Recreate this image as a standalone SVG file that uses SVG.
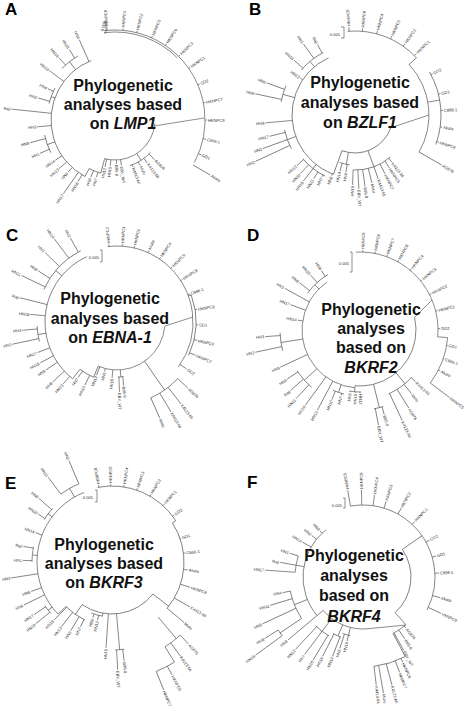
<svg xmlns="http://www.w3.org/2000/svg" width="474" height="718" viewBox="0 0 474 718">
<style>
.t line,.t circle,.t path{stroke:#505050;stroke-width:0.65;fill:none}
.t text{font-family:'Liberation Sans',Arial,sans-serif;font-size:4.1px;fill:#333;dominant-baseline:central}
.t text.f{text-anchor:end}
.s{font-family:'Liberation Sans',Arial,sans-serif;font-size:3.6px;fill:#333}
.h{font-family:'Liberation Sans',Arial,sans-serif;font-weight:bold;font-size:16px;text-anchor:middle;fill:#111}
.p{font-family:'Liberation Sans',Arial,sans-serif;font-weight:bold;font-size:17px;fill:#000}
</style>
<rect width="474" height="718" fill="#fff"/>

<!-- ===== Panel A ===== -->
<g id="panelA">
<text class="p" x="5" y="15">A</text>
<g class="t">
<path d="M104 22H106V33H104"/><text class="s" x="102" y="31" transform="rotate(-75 102 31)">0.005</text>
</g>
<g id="A-edges" class="t" transform="translate(115,120)">
<circle r="90" transform="rotate(-97)" stroke-dasharray="196.3 999"/>
<circle r="88" transform="rotate(-97)" stroke-dasharray="79.9 999"/>
<circle r="40" transform="rotate(5)" stroke-dasharray="69.8 999"/>
<circle r="48" transform="rotate(42)" stroke-dasharray="25.1 999"/>
<circle r="55" transform="rotate(105)" stroke-dasharray="12.5 999"/>
<circle r="64" transform="rotate(118)" stroke-dasharray="145.2 999"/>
<circle r="72" transform="rotate(153)" stroke-dasharray="18.8 999"/>
<circle r="74" transform="rotate(224)" stroke-dasharray="20.7 999"/>
<circle r="68" transform="rotate(194)" stroke-dasharray="16.6 999"/>
<line transform="rotate(57)" x1="40" x2="48"/>
<line transform="rotate(105)" x1="40" x2="55"/>
<line transform="rotate(118)" x1="55" x2="64"/>
<line transform="rotate(160)" x1="64" x2="72"/>
<line transform="rotate(232)" x1="64" x2="74"/>
<line transform="rotate(200)" x1="64" x2="68"/>
<line x1="39" y1="6" x2="89" y2="-2"/>
</g>
<g id="A-leaves" class="t" transform="translate(115,120)">
<g transform="rotate(-95)"><line x1="90" x2="93"/><text x="94">HKNPC8</text></g>
<g transform="rotate(-85)"><line x1="90" x2="92"/><text x="93">HKNPC4</text></g>
<g transform="rotate(-76)"><line x1="90" x2="92"/><text x="93">HKNPC2</text></g>
<g transform="rotate(-66)"><line x1="90" x2="92"/><text x="93">HKNPC5</text></g>
<g transform="rotate(-56)"><line x1="90" x2="92"/><text x="93">HKNPC6</text></g>
<g transform="rotate(-45)"><line x1="90" x2="92"/><text x="93">HKNPC3</text></g>
<g transform="rotate(-35)"><line x1="90" x2="92"/><text x="93">HKNPC1</text></g>
<g transform="rotate(-23)"><line x1="90" x2="92"/><text x="93">GD2</text></g>
<g transform="rotate(-11)"><line x1="90" x2="92"/><text x="93">HKNPC7</text></g>
<g transform="rotate(0)"><line x1="90" x2="92"/><text x="93">HKNPC9</text></g>
<g transform="rotate(12)"><line x1="90" x2="93"/><text x="94">C666-1</text></g>
<g transform="rotate(22)"><line x1="90" x2="93"/><text x="94">GD1</text></g>
<g transform="rotate(30)"><line x1="90" x2="110"/><text x="111">Akata</text></g>
<g transform="rotate(45)"><line x1="48" x2="56"/><text x="57">AG876</text></g>
<g transform="rotate(53)"><line x1="48" x2="54"/><text x="55">K4123-Mi</text></g>
<g transform="rotate(61)"><line x1="48" x2="52"/><text x="53">Mutu</text></g>
<g transform="rotate(69)"><line x1="48" x2="50"/><text x="51">K4413-Mi</text></g>
<g transform="rotate(82)"><line x1="40" x2="46"/><text x="47">EBV_WT</text></g>
<g transform="rotate(88)"><line x1="40" x2="44"/><text x="45">B95-8</text></g>
<g transform="rotate(96)"><line x1="40" x2="46"/><text class="f" transform="translate(47) rotate(180)">HN15</text></g>
<g transform="rotate(102)"><line x1="40" x2="48"/><text class="f" transform="translate(49) rotate(180)">HN12</text></g>
<g transform="rotate(108)"><line x1="55" x2="60"/><text class="f" transform="translate(61) rotate(180)">HN7</text></g>
<g transform="rotate(113)"><line x1="55" x2="62"/><text class="f" transform="translate(63) rotate(180)">HN5</text></g>
<g transform="rotate(121)"><line x1="64" x2="72"/><text class="f" transform="translate(73) rotate(180)">HN16</text></g>
<g transform="rotate(125)"><line x1="64" x2="90"/><text class="f" transform="translate(91) rotate(180)">HN17</text></g>
<g transform="rotate(132)"><line x1="64" x2="70"/><text class="f" transform="translate(71) rotate(180)">HN9</text></g>
<g transform="rotate(139)"><line x1="64" x2="74"/><text class="f" transform="translate(75) rotate(180)">HN13</text></g>
<g transform="rotate(146)"><line x1="64" x2="72"/><text class="f" transform="translate(73) rotate(180)">HN14</text></g>
<g transform="rotate(156)"><line x1="72" x2="82"/><text class="f" transform="translate(83) rotate(180)">HN1</text></g>
<g transform="rotate(165)"><line x1="72" x2="88"/><text class="f" transform="translate(89) rotate(180)">HN8</text></g>
<g transform="rotate(175)"><line x1="64" x2="78"/><text class="f" transform="translate(79) rotate(180)">HN3</text></g>
<g transform="rotate(186)"><line x1="64" x2="104"/><text class="f" transform="translate(105) rotate(180)">Raji</text></g>
<g transform="rotate(196)"><line x1="68" x2="80"/><text class="f" transform="translate(81) rotate(180)">HN2</text></g>
<g transform="rotate(205)"><line x1="68" x2="74"/><text class="f" transform="translate(75) rotate(180)">HN4</text></g>
<g transform="rotate(217)"><line x1="64" x2="82"/><text class="f" transform="translate(83) rotate(180)">HN10</text></g>
<g transform="rotate(228)"><line x1="74" x2="84"/><text class="f" transform="translate(85) rotate(180)">HN18</text></g>
<g transform="rotate(237)"><line x1="74" x2="84"/><text class="f" transform="translate(85) rotate(180)">HN11</text></g>
<g transform="rotate(246)"><line x1="64" x2="88"/><text class="f" transform="translate(89) rotate(180)">HN6</text></g>
</g>
<text class="h" x="123" y="91">Phylogenetic</text>
<text class="h" x="123" y="110">analyses based</text>
<text class="h" x="123" y="129">on <tspan font-style="italic">LMP1</tspan></text>
</g>

<!-- ===== Panel B ===== -->
<g id="panelB">
<text class="p" x="249" y="15">B</text>
<g class="t"><path d="M341 27H344V38H341"/><text class="s" x="340" y="34" text-anchor="end">0.005</text></g>
<g id="B-edges" class="t" transform="translate(355,115)">
<circle r="74" transform="rotate(-43)" stroke-dasharray="94.3 999"/>
<circle r="84" transform="rotate(-95)" stroke-dasharray="76.2 999"/>
<circle r="86" transform="rotate(-30)" stroke-dasharray="75 999"/>
<circle r="38" transform="rotate(20)" stroke-dasharray="59.7 999"/>
<circle r="55" transform="rotate(50)" stroke-dasharray="40.3 999"/>
<circle r="50" transform="rotate(96)" stroke-dasharray="10.5 999"/>
<circle r="63" transform="rotate(110)" stroke-dasharray="148.4 999"/>
<circle r="72" transform="rotate(152)" stroke-dasharray="20.1 999"/>
<circle r="75" transform="rotate(190)" stroke-dasharray="17 999"/>
<circle r="70" transform="rotate(220)" stroke-dasharray="28.1 999"/>
<circle r="68" transform="rotate(116)" stroke-dasharray="28.5 999"/>
<line transform="rotate(-43)" x1="74" x2="84"/>
<line transform="rotate(-10)" x1="74" x2="86"/>
<line transform="rotate(70)" x1="38" x2="55"/>
<line transform="rotate(100)" x1="38" x2="50"/>
<line transform="rotate(110)" x1="38" x2="63"/>
<line transform="rotate(160)" x1="63" x2="72"/>
<line transform="rotate(196)" x1="63" x2="75"/>
<line transform="rotate(230)" x1="63" x2="70"/>
<line transform="rotate(128)" x1="63" x2="68"/>
<line x1="35" y1="13" x2="74" y2="0"/>
</g>
<g id="B-leaves" class="t" transform="translate(355,115)">
<g transform="rotate(-94)"><line x1="84" x2="88"/><text x="89">HKNPC8</text></g>
<g transform="rotate(-85)"><line x1="84" x2="87"/><text x="88">HKNPC6</text></g>
<g transform="rotate(-75)"><line x1="84" x2="87"/><text x="88">HKNPC4</text></g>
<g transform="rotate(-65)"><line x1="84" x2="87"/><text x="88">HKNPC3</text></g>
<g transform="rotate(-55)"><line x1="84" x2="87"/><text x="88">HKNPC2</text></g>
<g transform="rotate(-45)"><line x1="84" x2="87"/><text x="88">HKNPC1</text></g>
<g transform="rotate(-28)"><line x1="86" x2="88"/><text x="89">GD2</text></g>
<g transform="rotate(-14)"><line x1="86" x2="88"/><text x="89">GD1</text></g>
<g transform="rotate(-3)"><line x1="86" x2="88"/><text x="89">C666-1</text></g>
<g transform="rotate(8)"><line x1="86" x2="88"/><text x="89">Akata</text></g>
<g transform="rotate(18)"><line x1="86" x2="88"/><text x="89">HKNPC9</text></g>
<g transform="rotate(30)"><line x1="74" x2="100"/><text x="101">AG876</text></g>
<g transform="rotate(52)"><line x1="55" x2="60"/><text x="61">K4123-Mi</text></g>
<g transform="rotate(57)"><line x1="55" x2="63"/><text x="64">HKNPC5</text></g>
<g transform="rotate(63)"><line x1="55" x2="66"/><text x="67">HKNPC7</text></g>
<g transform="rotate(70)"><line x1="55" x2="68"/><text x="69">K4413-Mi</text></g>
<g transform="rotate(76)"><line x1="55" x2="70"/><text x="71">Mutu</text></g>
<g transform="rotate(82)"><line x1="55" x2="72"/><text x="73">B95-8</text></g>
<g transform="rotate(87)"><line x1="55" x2="74"/><text x="75">EBV_WT</text></g>
<g transform="rotate(92)"><line x1="55" x2="70"/><text class="f" transform="translate(71) rotate(180)">HN15</text></g>
<g transform="rotate(99)"><line x1="50" x2="58"/><text class="f" transform="translate(59) rotate(180)">HN4</text></g>
<g transform="rotate(105)"><line x1="50" x2="58"/><text class="f" transform="translate(59) rotate(180)">HN14</text></g>
<g transform="rotate(111)"><line x1="63" x2="65"/><text class="f" transform="translate(66) rotate(180)">HN6</text></g>
<g transform="rotate(118)"><line x1="68" x2="70"/><text class="f" transform="translate(71) rotate(180)">HN7</text></g>
<g transform="rotate(123)"><line x1="68" x2="76"/><text class="f" transform="translate(77) rotate(180)">HN11</text></g>
<g transform="rotate(128)"><line x1="68" x2="84"/><text class="f" transform="translate(85) rotate(180)">HN18</text></g>
<g transform="rotate(133)"><line x1="68" x2="80"/><text class="f" transform="translate(81) rotate(180)">HN10</text></g>
<g transform="rotate(139)"><line x1="68" x2="77"/><text class="f" transform="translate(78) rotate(180)">HN12</text></g>
<g transform="rotate(155)"><line x1="72" x2="110"/><text class="f" transform="translate(111) rotate(180)">HN2</text></g>
<g transform="rotate(160)"><line x1="72" x2="98"/><text class="f" transform="translate(99) rotate(180)">HN3</text></g>
<g transform="rotate(166)"><line x1="72" x2="88"/><text class="f" transform="translate(89) rotate(180)">HN17</text></g>
<g transform="rotate(175)"><line x1="63" x2="90"/><text class="f" transform="translate(91) rotate(180)">HN8</text></g>
<g transform="rotate(192)"><line x1="75" x2="102"/><text class="f" transform="translate(103) rotate(180)">HN9</text></g>
<g transform="rotate(200)"><line x1="75" x2="94"/><text class="f" transform="translate(95) rotate(180)">HN5</text></g>
<g transform="rotate(214)"><line x1="63" x2="66"/><text class="f" transform="translate(67) rotate(180)">HN13</text></g>
<g transform="rotate(222)"><line x1="70" x2="82"/><text class="f" transform="translate(83) rotate(180)">HN16</text></g>
<g transform="rotate(234)"><line x1="70" x2="88"/><text class="f" transform="translate(89) rotate(180)">HN1</text></g>
<g transform="rotate(242)"><line x1="70" x2="80"/><text class="f" transform="translate(81) rotate(180)">Raji</text></g>
</g>
<text class="h" x="360" y="88">Phylogenetic</text>
<text class="h" x="360" y="108">analyses based</text>
<text class="h" x="360" y="128">on <tspan font-style="italic">BZLF1</tspan></text>
</g>

<!-- ===== Panel C ===== -->
<g id="panelC">
<text class="p" x="6" y="241">C</text>
<g class="t"><path d="M100 250H102V262H100"/><text class="s" x="99" y="257" text-anchor="end">0.005</text></g>
<g id="C-edges" class="t" transform="translate(117,322)">
<circle r="76" transform="rotate(-97)" stroke-dasharray="176.4 999"/>
<circle r="79" transform="rotate(-20)" stroke-dasharray="62 999"/>
<circle r="48" transform="rotate(5)" stroke-dasharray="90.5 999"/>
<circle r="83" transform="rotate(43)" stroke-dasharray="33.3 999"/>
<circle r="55" transform="rotate(83)" stroke-dasharray="5.8 999"/>
<circle r="60" transform="rotate(113)" stroke-dasharray="15.7 999"/>
<circle r="72" transform="rotate(128)" stroke-dasharray="147 999"/>
<circle r="80" transform="rotate(166)" stroke-dasharray="15.4 999"/>
<circle r="80" transform="rotate(204)" stroke-dasharray="54.5 999"/>
<line transform="rotate(-20)" x1="76" x2="79"/>
<line transform="rotate(55)" x1="48" x2="83"/>
<line transform="rotate(86)" x1="48" x2="55"/>
<line transform="rotate(113)" x1="48" x2="60"/>
<line transform="rotate(128)" x1="60" x2="72"/>
<line transform="rotate(171)" x1="72" x2="80"/>
<line transform="rotate(220)" x1="72" x2="80"/>
<line x1="48" y1="4" x2="76" y2="-5"/>
</g>
<g id="C-leaves" class="t" transform="translate(117,322)">
<g transform="rotate(-96)"><line x1="76" x2="78"/><text x="79">HKNPC2</text></g>
<g transform="rotate(-86)"><line x1="76" x2="78"/><text x="79">HKNPC3</text></g>
<g transform="rotate(-77)"><line x1="76" x2="78"/><text x="79">HKNPC1</text></g>
<g transform="rotate(-66)"><line x1="76" x2="78"/><text x="79">Akata</text></g>
<g transform="rotate(-56)"><line x1="76" x2="78"/><text x="79">HKNPC4</text></g>
<g transform="rotate(-45)"><line x1="76" x2="78"/><text x="79">HKNPC5</text></g>
<g transform="rotate(-33)"><line x1="76" x2="78"/><text x="79">HKNPC8</text></g>
<g transform="rotate(-21)"><line x1="76" x2="78"/><text x="79">C666-1</text></g>
<g transform="rotate(-9)"><line x1="79" x2="81"/><text x="82">HKNPC9</text></g>
<g transform="rotate(2)"><line x1="79" x2="81"/><text x="82">GD1</text></g>
<g transform="rotate(13)"><line x1="79" x2="82"/><text x="83">HKNPC6</text></g>
<g transform="rotate(23)"><line x1="79" x2="85"/><text x="86">HKNPC7</text></g>
<g transform="rotate(34)"><line x1="76" x2="84"/><text x="85">GD2</text></g>
<g transform="rotate(43)"><line x1="83" x2="97"/><text x="98">AG876</text></g>
<g transform="rotate(52)"><line x1="83" x2="104"/><text x="105">K4123-Mi</text></g>
<g transform="rotate(59)"><line x1="83" x2="105"/><text x="106">K4413-Mi</text></g>
<g transform="rotate(66)"><line x1="83" x2="105"/><text x="106">Mutu</text></g>
<g transform="rotate(84)"><line x1="55" x2="64"/><text x="65">B95-8</text></g>
<g transform="rotate(88)"><line x1="55" x2="70"/><text x="71">EBV_WT</text></g>
<g transform="rotate(95)"><line x1="48" x2="56"/><text class="f" transform="translate(57) rotate(180)">HN15</text></g>
<g transform="rotate(104)"><line x1="48" x2="51"/><text class="f" transform="translate(52) rotate(180)">HN5</text></g>
<g transform="rotate(111)"><line x1="48" x2="57"/><text class="f" transform="translate(58) rotate(180)">HN12</text></g>
<g transform="rotate(117)"><line x1="60" x2="71"/><text class="f" transform="translate(72) rotate(180)">HN10</text></g>
<g transform="rotate(125)"><line x1="60" x2="68"/><text class="f" transform="translate(69) rotate(180)">HN7</text></g>
<g transform="rotate(131)"><line x1="72" x2="82"/><text class="f" transform="translate(83) rotate(180)">HN13</text></g>
<g transform="rotate(137)"><line x1="72" x2="88"/><text class="f" transform="translate(89) rotate(180)">HN6</text></g>
<g transform="rotate(146)"><line x1="72" x2="86"/><text class="f" transform="translate(87) rotate(180)">HN9</text></g>
<g transform="rotate(152)"><line x1="72" x2="87"/><text class="f" transform="translate(88) rotate(180)">HN18</text></g>
<g transform="rotate(159)"><line x1="72" x2="85"/><text class="f" transform="translate(86) rotate(180)">HN17</text></g>
<g transform="rotate(168)"><line x1="80" x2="107"/><text class="f" transform="translate(108) rotate(180)">HN3</text></g>
<g transform="rotate(175)"><line x1="80" x2="95"/><text class="f" transform="translate(96) rotate(180)">HN4</text></g>
<g transform="rotate(185)"><line x1="72" x2="87"/><text class="f" transform="translate(88) rotate(180)">HN16</text></g>
<g transform="rotate(194)"><line x1="72" x2="100"/><text class="f" transform="translate(101) rotate(180)">Raji</text></g>
<g transform="rotate(206)"><line x1="80" x2="106"/><text class="f" transform="translate(107) rotate(180)">HN11</text></g>
<g transform="rotate(213)"><line x1="80" x2="94"/><text class="f" transform="translate(95) rotate(180)">HN8</text></g>
<g transform="rotate(224)"><line x1="80" x2="100"/><text class="f" transform="translate(101) rotate(180)">HN1</text></g>
<g transform="rotate(233)"><line x1="80" x2="104"/><text class="f" transform="translate(105) rotate(180)">HN14</text></g>
<g transform="rotate(241)"><line x1="80" x2="96"/><text class="f" transform="translate(97) rotate(180)">HN2</text></g>
</g>
<text class="h" x="110" y="304">Phylogenetic</text>
<text class="h" x="110" y="324">analyses based</text>
<text class="h" x="110" y="343">on <tspan font-style="italic">EBNA-1</tspan></text>
</g>

<!-- ===== Panel D ===== -->
<g id="panelD">
<text class="p" x="247" y="241">D</text>
<g class="t"><path d="M350 252H352V272H350"/><text class="s" x="349" y="263" text-anchor="end">0.005</text></g>
<g id="D-edges" class="t" transform="translate(360,330)">
<circle r="78" transform="rotate(-93)" stroke-dasharray="133.4 999"/>
<circle r="88" transform="rotate(5)" stroke-dasharray="49.1 999"/>
<circle r="56" transform="rotate(-13)" stroke-dasharray="105.6 999"/>
<circle r="70" transform="rotate(42)" stroke-dasharray="29.3 999"/>
<circle r="80" transform="rotate(73)" stroke-dasharray="9.8 999"/>
<circle r="62" transform="rotate(89)" stroke-dasharray="11.9 999"/>
<circle r="58" transform="rotate(95)" stroke-dasharray="141.7 999"/>
<circle r="66" transform="rotate(104)" stroke-dasharray="11.5 999"/>
<circle r="75" transform="rotate(130)" stroke-dasharray="22.3 999"/>
<circle r="80" transform="rotate(165)" stroke-dasharray="18.2 999"/>
<circle r="64" transform="rotate(215)" stroke-dasharray="27.9 999"/>
<line transform="rotate(5)" x1="78" x2="88"/>
<line transform="rotate(50)" x1="56" x2="70"/>
<line transform="rotate(76)" x1="56" x2="80"/>
<line transform="rotate(95)" x1="56" x2="62"/>
<line transform="rotate(109)" x1="58" x2="66"/>
<line transform="rotate(138)" x1="58" x2="75"/>
<line transform="rotate(171)" x1="58" x2="80"/>
<line transform="rotate(225)" x1="58" x2="64"/>
<line x1="54.6" y1="-12.6" x2="72" y2="-30"/>
</g>
<g id="D-leaves" class="t" transform="translate(360,330)">
<g transform="rotate(-88)"><line x1="78" x2="80"/><text x="81">HKNPC8</text></g>
<g transform="rotate(-79)"><line x1="78" x2="80"/><text x="81">HKNPC9</text></g>
<g transform="rotate(-70)"><line x1="78" x2="80"/><text x="81">HKNPC7</text></g>
<g transform="rotate(-61)"><line x1="78" x2="80"/><text x="81">HKNPC6</text></g>
<g transform="rotate(-50)"><line x1="78" x2="80"/><text x="81">HKNPC4</text></g>
<g transform="rotate(-39)"><line x1="78" x2="80"/><text x="81">HKNPC3</text></g>
<g transform="rotate(-27)"><line x1="78" x2="80"/><text x="81">HKNPC2</text></g>
<g transform="rotate(-14)"><line x1="78" x2="80"/><text x="81">HKNPC1</text></g>
<g transform="rotate(-1)"><line x1="78" x2="80"/><text x="81">GD2</text></g>
<g transform="rotate(10)"><line x1="88" x2="89"/><text x="90">GD1</text></g>
<g transform="rotate(19)"><line x1="88" x2="89"/><text x="90">C666-1</text></g>
<g transform="rotate(27)"><line x1="88" x2="90"/><text x="91">Akata</text></g>
<g transform="rotate(37)"><line x1="88" x2="112"/><text x="113">HKNPC5</text></g>
<g transform="rotate(43)"><line x1="70" x2="76"/><text x="77">K4413-Mi</text></g>
<g transform="rotate(51)"><line x1="70" x2="82"/><text x="83">Mutu</text></g>
<g transform="rotate(58)"><line x1="70" x2="92"/><text x="93">AG876</text></g>
<g transform="rotate(65)"><line x1="70" x2="100"/><text x="101">K4123-Mi</text></g>
<g transform="rotate(74)"><line x1="80" x2="88"/><text x="89">B95-8</text></g>
<g transform="rotate(79)"><line x1="80" x2="97"/><text x="98">EBV_WT</text></g>
<g transform="rotate(90)"><line x1="62" x2="63"/><text x="64">HN12</text></g>
<g transform="rotate(94)"><line x1="62" x2="63"/><text class="f" transform="translate(64) rotate(180)">HN15</text></g>
<g transform="rotate(99)"><line x1="62" x2="63"/><text class="f" transform="translate(64) rotate(180)">HN5</text></g>
<g transform="rotate(106)"><line x1="66" x2="68"/><text class="f" transform="translate(69) rotate(180)">HN7</text></g>
<g transform="rotate(112)"><line x1="66" x2="75"/><text class="f" transform="translate(76) rotate(180)">HN10</text></g>
<g transform="rotate(118)"><line x1="58" x2="91"/><text class="f" transform="translate(92) rotate(180)">HN13</text></g>
<g transform="rotate(126)"><line x1="58" x2="93"/><text class="f" transform="translate(94) rotate(180)">HN18</text></g>
<g transform="rotate(133)"><line x1="75" x2="94"/><text class="f" transform="translate(95) rotate(180)">HN11</text></g>
<g transform="rotate(139)"><line x1="75" x2="92"/><text class="f" transform="translate(93) rotate(180)">Raji</text></g>
<g transform="rotate(146)"><line x1="75" x2="88"/><text class="f" transform="translate(89) rotate(180)">HN4</text></g>
<g transform="rotate(155)"><line x1="58" x2="88"/><text class="f" transform="translate(89) rotate(180)">HN9</text></g>
<g transform="rotate(168)"><line x1="80" x2="107"/><text class="f" transform="translate(108) rotate(180)">HN2</text></g>
<g transform="rotate(176)"><line x1="80" x2="95"/><text class="f" transform="translate(96) rotate(180)">HN3</text></g>
<g transform="rotate(189)"><line x1="58" x2="63"/><text class="f" transform="translate(64) rotate(180)">HN14</text></g>
<g transform="rotate(200)"><line x1="58" x2="74"/><text class="f" transform="translate(75) rotate(180)">HN17</text></g>
<g transform="rotate(209)"><line x1="58" x2="86"/><text class="f" transform="translate(87) rotate(180)">HN1</text></g>
<g transform="rotate(218)"><line x1="64" x2="77"/><text class="f" transform="translate(78) rotate(180)">HN6</text></g>
<g transform="rotate(228)"><line x1="64" x2="74"/><text class="f" transform="translate(75) rotate(180)">HN16</text></g>
<g transform="rotate(237)"><line x1="64" x2="71"/><text class="f" transform="translate(72) rotate(180)">HN8</text></g>
</g>
<text class="h" x="371" y="315">Phylogenetic</text>
<text class="h" x="371" y="334">analyses</text>
<text class="h" x="371" y="353">based on</text>
<text class="h" x="371" y="373" font-style="italic">BKRF2</text>
</g>

<!-- ===== Panel E ===== -->
<g id="panelE">
<text class="p" x="5" y="489">E</text>
<g class="t"><path d="M95 490H97V502H95"/><text class="s" x="93" y="497" text-anchor="end">0.005</text></g>
<g id="E-edges" class="t" transform="translate(112,562)">
<circle r="76" transform="rotate(-101)" stroke-dasharray="90.2 999"/>
<circle r="72" transform="rotate(-33)" stroke-dasharray="91.7 999"/>
<circle r="100" transform="rotate(47)" stroke-dasharray="19.2 999"/>
<circle r="118" transform="rotate(58)" stroke-dasharray="20.6 999"/>
<circle r="52" transform="rotate(38)" stroke-dasharray="79 999"/>
<circle r="88" transform="rotate(82)" stroke-dasharray="9.2 999"/>
<circle r="55" transform="rotate(100)" stroke-dasharray="11.5 999"/>
<circle r="64" transform="rotate(115)" stroke-dasharray="23.5 999"/>
<circle r="75" transform="rotate(136)" stroke-dasharray="146.6 999"/>
<circle r="80" transform="rotate(140)" stroke-dasharray="9.8 999"/>
<circle r="80" transform="rotate(180)" stroke-dasharray="15.4 999"/>
<circle r="80" transform="rotate(212)" stroke-dasharray="14 999"/>
<circle r="85" transform="rotate(233)" stroke-dasharray="20.8 999"/>
<line transform="rotate(-33)" x1="72" x2="76"/>
<line transform="rotate(38)" x1="52" x2="72"/>
<line transform="rotate(50)" x1="72" x2="100"/>
<line transform="rotate(58)" x1="100" x2="118"/>
<line transform="rotate(85)" x1="52" x2="88"/>
<line transform="rotate(100)" x1="52" x2="55"/>
<line transform="rotate(125)" x1="52" x2="64"/>
<line transform="rotate(136)" x1="64" x2="75"/>
<line transform="rotate(143)" x1="75" x2="80"/>
<line transform="rotate(185)" x1="75" x2="80"/>
<line transform="rotate(217)" x1="75" x2="80"/>
<line transform="rotate(240)" x1="75" x2="85"/>
</g>
<g id="E-leaves" class="t" transform="translate(112,562)">
<g transform="rotate(-100)"><line x1="76" x2="78"/><text x="79">HKNPC8</text></g>
<g transform="rotate(-91)"><line x1="76" x2="78"/><text x="79">HKNPC6</text></g>
<g transform="rotate(-81)"><line x1="76" x2="78"/><text x="79">HKNPC4</text></g>
<g transform="rotate(-71)"><line x1="76" x2="78"/><text x="79">HKNPC3</text></g>
<g transform="rotate(-60)"><line x1="76" x2="78"/><text x="79">HKNPC2</text></g>
<g transform="rotate(-48)"><line x1="76" x2="78"/><text x="79">HKNPC1</text></g>
<g transform="rotate(-37)"><line x1="76" x2="78"/><text x="79">GD2</text></g>
<g transform="rotate(-19)"><line x1="72" x2="73"/><text x="74">GD1</text></g>
<g transform="rotate(-7)"><line x1="72" x2="74"/><text x="75">C666-1</text></g>
<g transform="rotate(6)"><line x1="72" x2="76"/><text x="77">Akata</text></g>
<g transform="rotate(18)"><line x1="72" x2="82"/><text x="83">HKNPC9</text></g>
<g transform="rotate(30)"><line x1="72" x2="90"/><text x="91">K4413-Mi</text></g>
<g transform="rotate(40)"><line x1="72" x2="94"/><text x="95">Mutu</text></g>
<g transform="rotate(47)"><line x1="100" x2="112"/><text x="113">AG876</text></g>
<g transform="rotate(54)"><line x1="100" x2="116"/><text x="117">K4123-Mi</text></g>
<g transform="rotate(62)"><line x1="118" x2="128"/><text x="129">HKNPC5</text></g>
<g transform="rotate(68)"><line x1="118" x2="138"/><text x="139">HKNPC7</text></g>
<g transform="rotate(83)"><line x1="88" x2="100"/><text x="101">B95-8</text></g>
<g transform="rotate(87)"><line x1="88" x2="108"/><text x="109">EBV_WT</text></g>
<g transform="rotate(94)"><line x1="52" x2="86"/><text class="f" transform="translate(87) rotate(180)">HN15</text></g>
<g transform="rotate(104)"><line x1="55" x2="60"/><text class="f" transform="translate(61) rotate(180)">HN12</text></g>
<g transform="rotate(109)"><line x1="55" x2="59"/><text class="f" transform="translate(60) rotate(180)">HN5</text></g>
<g transform="rotate(116)"><line x1="64" x2="72"/><text class="f" transform="translate(73) rotate(180)">HN7</text></g>
<g transform="rotate(121)"><line x1="64" x2="80"/><text class="f" transform="translate(81) rotate(180)">HN9</text></g>
<g transform="rotate(128)"><line x1="64" x2="82"/><text class="f" transform="translate(83) rotate(180)">HN13</text></g>
<g transform="rotate(135)"><line x1="64" x2="82"/><text class="f" transform="translate(83) rotate(180)">HN18</text></g>
<g transform="rotate(141)"><line x1="80" x2="98"/><text class="f" transform="translate(99) rotate(180)">HN10</text></g>
<g transform="rotate(146)"><line x1="80" x2="94"/><text class="f" transform="translate(95) rotate(180)">HN17</text></g>
<g transform="rotate(154)"><line x1="75" x2="98"/><text class="f" transform="translate(99) rotate(180)">HN4</text></g>
<g transform="rotate(160)"><line x1="75" x2="86"/><text class="f" transform="translate(87) rotate(180)">HN6</text></g>
<g transform="rotate(171)"><line x1="75" x2="102"/><text class="f" transform="translate(103) rotate(180)">HN3</text></g>
<g transform="rotate(181)"><line x1="80" x2="89"/><text class="f" transform="translate(90) rotate(180)">HN1</text></g>
<g transform="rotate(190)"><line x1="80" x2="90"/><text class="f" transform="translate(91) rotate(180)">Raji</text></g>
<g transform="rotate(201)"><line x1="75" x2="82"/><text class="f" transform="translate(83) rotate(180)">HN14</text></g>
<g transform="rotate(213)"><line x1="80" x2="88"/><text class="f" transform="translate(89) rotate(180)">HN16</text></g>
<g transform="rotate(221)"><line x1="80" x2="97"/><text class="f" transform="translate(98) rotate(180)">HN8</text></g>
<g transform="rotate(233)"><line x1="85" x2="106"/><text class="f" transform="translate(107) rotate(180)">HN11</text></g>
<g transform="rotate(247)"><line x1="85" x2="110"/><text class="f" transform="translate(111) rotate(180)">HN2</text></g>
</g>
<text class="h" x="104" y="550">Phylogenetic</text>
<text class="h" x="104" y="569">analyses based</text>
<text class="h" x="104" y="588">on <tspan font-style="italic">BKRF3</tspan></text>
</g>

<!-- ===== Panel F ===== -->
<g id="panelF">
<text class="p" x="247" y="488">F</text>
<g class="t"><path d="M343 498H345V508H343"/><text class="s" x="342" y="505" text-anchor="end">0.005</text></g>
<g id="F-edges" class="t" transform="translate(363,577)">
<circle r="72" transform="rotate(-100)" stroke-dasharray="159.6 999"/>
<circle r="48" transform="rotate(-35)" stroke-dasharray="69.5 999"/>
<circle r="64" transform="rotate(48)" stroke-dasharray="15.6 999"/>
<circle r="90" transform="rotate(62)" stroke-dasharray="33 999"/>
<circle r="52" transform="rotate(83)" stroke-dasharray="51.7 999"/>
<circle r="60" transform="rotate(102)" stroke-dasharray="8.4 999"/>
<circle r="64" transform="rotate(110)" stroke-dasharray="8.9 999"/>
<circle r="68" transform="rotate(120)" stroke-dasharray="16.6 999"/>
<circle r="60" transform="rotate(140)" stroke-dasharray="96.3 999"/>
<circle r="100" transform="rotate(144)" stroke-dasharray="7 999"/>
<circle r="74" transform="rotate(146)" stroke-dasharray="29.7 999"/>
<circle r="68" transform="rotate(184)" stroke-dasharray="16.6 999"/>
<line transform="rotate(-35)" x1="48" x2="72"/>
<line transform="rotate(48)" x1="48" x2="64"/>
<line transform="rotate(62)" x1="64" x2="90"/>
<line transform="rotate(104)" x1="52" x2="60"/>
<line transform="rotate(113)" x1="52" x2="64"/>
<line transform="rotate(127)" x1="52" x2="68"/>
<line transform="rotate(140)" x1="52" x2="60"/>
<line transform="rotate(146)" x1="74" x2="100"/>
<line transform="rotate(158)" x1="60" x2="74"/>
<line transform="rotate(190)" x1="60" x2="68"/>
<line x1="6.3" y1="51.6" x2="43" y2="48"/>
</g>
<g id="F-leaves" class="t" transform="translate(363,577)">
<g transform="rotate(-100)"><line x1="72" x2="88"/><text x="89">HKNPC5</text></g>
<g transform="rotate(-91)"><line x1="72" x2="87"/><text x="88">HKNPC8</text></g>
<g transform="rotate(-82)"><line x1="72" x2="83"/><text x="84">HKNPC4</text></g>
<g transform="rotate(-73)"><line x1="72" x2="79"/><text x="80">HKNPC3</text></g>
<g transform="rotate(-61)"><line x1="72" x2="79"/><text x="80">HKNPC2</text></g>
<g transform="rotate(-47)"><line x1="72" x2="76"/><text x="77">HKNPC1</text></g>
<g transform="rotate(-29)"><line x1="72" x2="76"/><text x="77">GD2</text></g>
<g transform="rotate(-16)"><line x1="72" x2="76"/><text x="77">GD1</text></g>
<g transform="rotate(-3)"><line x1="72" x2="76"/><text x="77">C666-1</text></g>
<g transform="rotate(15)"><line x1="72" x2="80"/><text x="81">Akata</text></g>
<g transform="rotate(25)"><line x1="72" x2="86"/><text x="87">HKNPC9</text></g>
<g transform="rotate(50)"><line x1="64" x2="67"/><text x="68">AG876</text></g>
<g transform="rotate(56)"><line x1="64" x2="75"/><text x="76">B95-8</text></g>
<g transform="rotate(61)"><line x1="64" x2="84"/><text x="85">EBV_WT</text></g>
<g transform="rotate(65)"><line x1="90" x2="94"/><text x="95">HKNPC6</text></g>
<g transform="rotate(69)"><line x1="90" x2="102"/><text x="103">HKNPC7</text></g>
<g transform="rotate(75)"><line x1="90" x2="112"/><text x="113">K4123-Mi</text></g>
<g transform="rotate(80)"><line x1="90" x2="118"/><text x="119">Mutu</text></g>
<g transform="rotate(83)"><line x1="90" x2="109"/><text x="110">K4413-Mi</text></g>
<g transform="rotate(104)"><line x1="60" x2="66"/><text class="f" transform="translate(67) rotate(180)">HN15</text></g>
<g transform="rotate(108)"><line x1="60" x2="75"/><text class="f" transform="translate(76) rotate(180)">HN5</text></g>
<g transform="rotate(111)"><line x1="64" x2="85"/><text class="f" transform="translate(86) rotate(180)">HN13</text></g>
<g transform="rotate(117)"><line x1="64" x2="89"/><text class="f" transform="translate(90) rotate(180)">HN18</text></g>
<g transform="rotate(121)"><line x1="68" x2="97"/><text class="f" transform="translate(98) rotate(180)">HN10</text></g>
<g transform="rotate(127)"><line x1="68" x2="97"/><text class="f" transform="translate(98) rotate(180)">HN7</text></g>
<g transform="rotate(133)"><line x1="68" x2="99"/><text class="f" transform="translate(100) rotate(180)">HN12</text></g>
<g transform="rotate(140)"><line x1="60" x2="98"/><text class="f" transform="translate(99) rotate(180)">HN6</text></g>
<g transform="rotate(144)"><line x1="100" x2="133"/><text class="f" transform="translate(134) rotate(180)">HN16</text></g>
<g transform="rotate(148)"><line x1="100" x2="116"/><text class="f" transform="translate(117) rotate(180)">HN8</text></g>
<g transform="rotate(155)"><line x1="74" x2="111"/><text class="f" transform="translate(112) rotate(180)">HN9</text></g>
<g transform="rotate(163)"><line x1="74" x2="97"/><text class="f" transform="translate(98) rotate(180)">HN11</text></g>
<g transform="rotate(169)"><line x1="74" x2="82"/><text class="f" transform="translate(83) rotate(180)">HN4</text></g>
<g transform="rotate(184)"><line x1="68" x2="98"/><text class="f" transform="translate(99) rotate(180)">HN17</text></g>
<g transform="rotate(190)"><line x1="68" x2="84"/><text class="f" transform="translate(85) rotate(180)">Raji</text></g>
<g transform="rotate(198)"><line x1="68" x2="77"/><text class="f" transform="translate(78) rotate(180)">HN1</text></g>
<g transform="rotate(210)"><line x1="60" x2="70"/><text class="f" transform="translate(71) rotate(180)">HN14</text></g>
<g transform="rotate(219)"><line x1="60" x2="66"/><text class="f" transform="translate(67) rotate(180)">HN2</text></g>
<g transform="rotate(227)"><line x1="60" x2="63"/><text class="f" transform="translate(64) rotate(180)">HN3</text></g>
</g>
<text class="h" x="354" y="561">Phylogenetic</text>
<text class="h" x="354" y="581">analyses</text>
<text class="h" x="354" y="601">based on</text>
<text class="h" x="354" y="622" font-style="italic">BKRF4</text>
</g>
</svg>
